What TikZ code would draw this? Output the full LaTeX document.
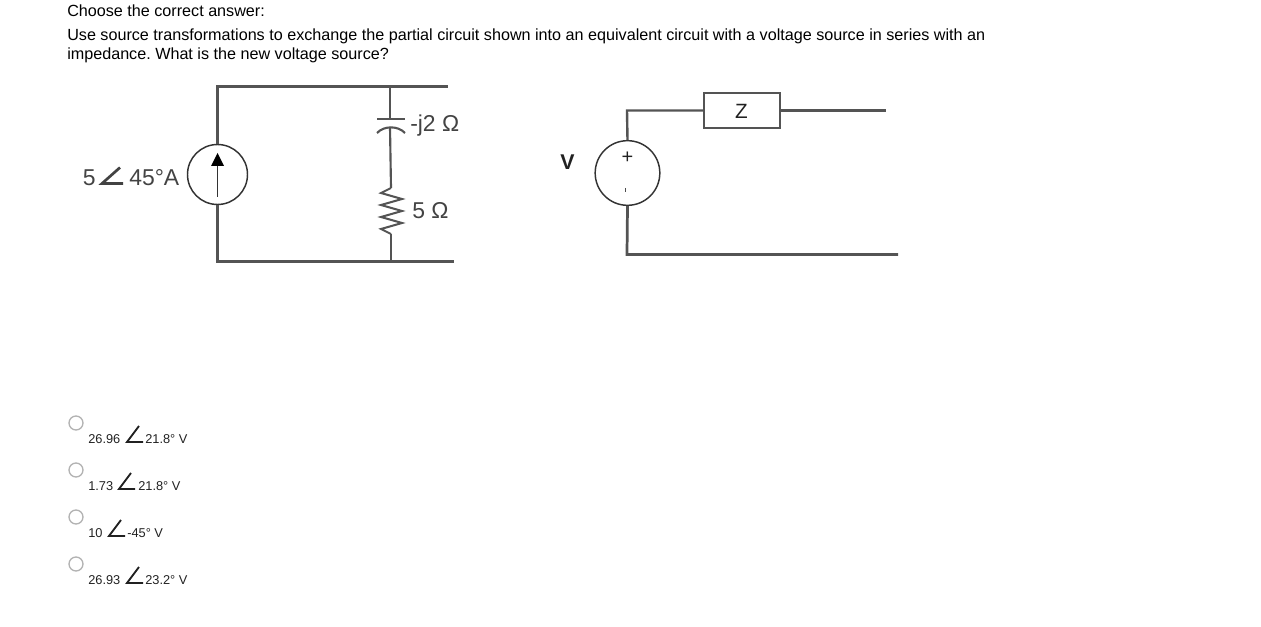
\documentclass[tikz,border=0pt]{standalone}
\usepackage{fontspec}
\setmainfont{Liberation Sans}
\frenchspacing
\definecolor{wirec}{gray}{0.33}
\definecolor{textc}{gray}{0.13}
\tikzset{
  qtext/.style={anchor=base west,inner sep=0pt,text=black,font=\fontsize{12.12}{14}\selectfont},
  clabel/.style={anchor=base west,inner sep=0pt,text=textc!85!white,font=\fontsize{17.2}{20}\selectfont},
  otext/.style={anchor=base west,inner sep=0pt,text=textc,font=\fontsize{9.6}{12}\selectfont},
  wire/.style={draw=wirec,line width=2.05pt,line join=miter},
  midwire/.style={draw=wirec,line width=1.8pt,line join=miter},
  thinwire/.style={draw=wirec,line width=1.6pt},
  src/.style={circle,draw=black!80,line width=1.1pt,fill=white,inner sep=0pt},
  radio/.style={circle,draw=black!30,line width=1pt,fill=white,inner sep=0pt,minimum size=10.5pt},
  ang/.style={draw=textc,line width=1.4pt,line join=miter},
  bigang/.style={draw=textc!85!white,line width=2pt,line join=miter},
}
\begin{document}
\begin{tikzpicture}[x=0.75pt,y=-0.75pt]
\useasboundingbox (0,0) rectangle (1261,627);
% question text
\node[qtext] (q1) at (67,16.6) {Choose the correct answer:};
\node[qtext] (q2) at (67,40.6) {Use source transformations to exchange the partial circuit shown into an equivalent circuit with a voltage source in series with an};
\node[qtext] (q3) at (67,59.6) {impedance. What is the new voltage source?};
% left circuit
\coordinate (tl) at (217.5,86.5);
\coordinate (tr) at (448,86.5);
\coordinate (bl) at (217.5,261.5);
\coordinate (br) at (454,261.5);
\coordinate (jt) at (390,86);
\coordinate (jb) at (391,261);
\coordinate (p1) at (390,119);
\coordinate (p2) at (390,127);
\coordinate (r1) at (391,188);
\coordinate (r2) at (391,234);
\node[src,minimum size=45pt] (I) at (217.5,174.5) {};
\draw[wire] (I.north) -- (tl) -- (tr);
\draw[wire] (I.south) -- (bl) -- (br);
\draw[thinwire] (jt) -- (p1);
\draw[draw=wirec,line width=1.6pt] (377,119) -- (405,119);
\draw[draw=wirec,line width=1.6pt] (377,133) .. controls (384,125.5) and (398,125.5) .. (405,133);
\draw[thinwire] (p2) -- (r1);
\draw[draw=wirec,line width=1.5pt,line join=miter] (r1) -- (381,193) -- (402,199) -- (381,205) -- (402,211) -- (381,217) -- (402,223) -- (381,229) -- (r2);
\draw[thinwire] (r2) -- (jb);
\coordinate (a1) at (217.5,197);
\coordinate (a2) at (217.5,165);
\draw[draw=black!80,line width=1.1pt] (a1) -- (a2);
\fill[black] (217.5,153) -- (224,166) -- (211,166) -- cycle;
\node[clabel] (l5) at (82.5,186) {5};
\draw[bigang] (123,183.5) -- (102,183.5) -- (120,167.5);
\node[clabel] (l45) at (129,186) {45°A};
\node[clabel] (lj) at (410,132) {-j2 Ω};
\node[clabel] (lr) at (412,218.5) {5 Ω};
% right circuit
\node[src,minimum size=48.5pt] (V) at (627.5,173) {};
\node[draw=wirec,line width=1.1pt,minimum width=57pt,minimum height=26pt,inner sep=0pt] (Z) at (742,110.5) {};
\node[anchor=center,inner sep=0pt,text=textc,font=\fontsize{15.5}{18}\selectfont] (Zt) at (741.5,111) {Z};
\coordinate (vt) at (627,110.5);
\coordinate (vb) at (627,254.5);
\coordinate (zr) at (886,110.5);
\coordinate (vr) at (898,254.5);
\draw[midwire] (V.north) -- (vt) -- (Z.west);
\draw[midwire] (Z.east) -- (zr);
\draw[wire] (V.south) -- (vb) -- (vr);
\node[inner sep=0pt,text=textc,font=\fontsize{15}{18}\selectfont] (plus) at (627.5,157.5) {+};
\draw[draw=black!70,line width=0.9pt] (625.5,188) -- (625.5,192);
\node[inner sep=0pt,text=textc,font=\bfseries\fontsize{16}{18}\selectfont] (Vt) at (567.5,162) {V};
% options
\node[radio] (o1) at (76,423) {};
\node[radio] (o2) at (76,470) {};
\node[radio] (o3) at (76,517) {};
\node[radio] (o4) at (76,564) {};
\node[otext] (t1a) at (88,443) {26.96};
\draw[ang] (143,442) -- (127,442) -- (139,426);
\node[otext] (t1b) at (145,443) {21.8° V};
\node[otext] (t2a) at (88,490) {1.73};
\draw[ang] (135,489) -- (119,489) -- (131,473);
\node[otext] (t2b) at (138,490) {21.8° V};
\node[otext] (t3a) at (88,537) {10};
\draw[ang] (125,536) -- (109,536) -- (121,520);
\node[otext] (t3b) at (127,537) {-45° V};
\node[otext] (t4a) at (88,584) {26.93};
\draw[ang] (143,583) -- (127,583) -- (139,567);
\node[otext] (t4b) at (145,584) {23.2° V};
\end{tikzpicture}
\end{document}
